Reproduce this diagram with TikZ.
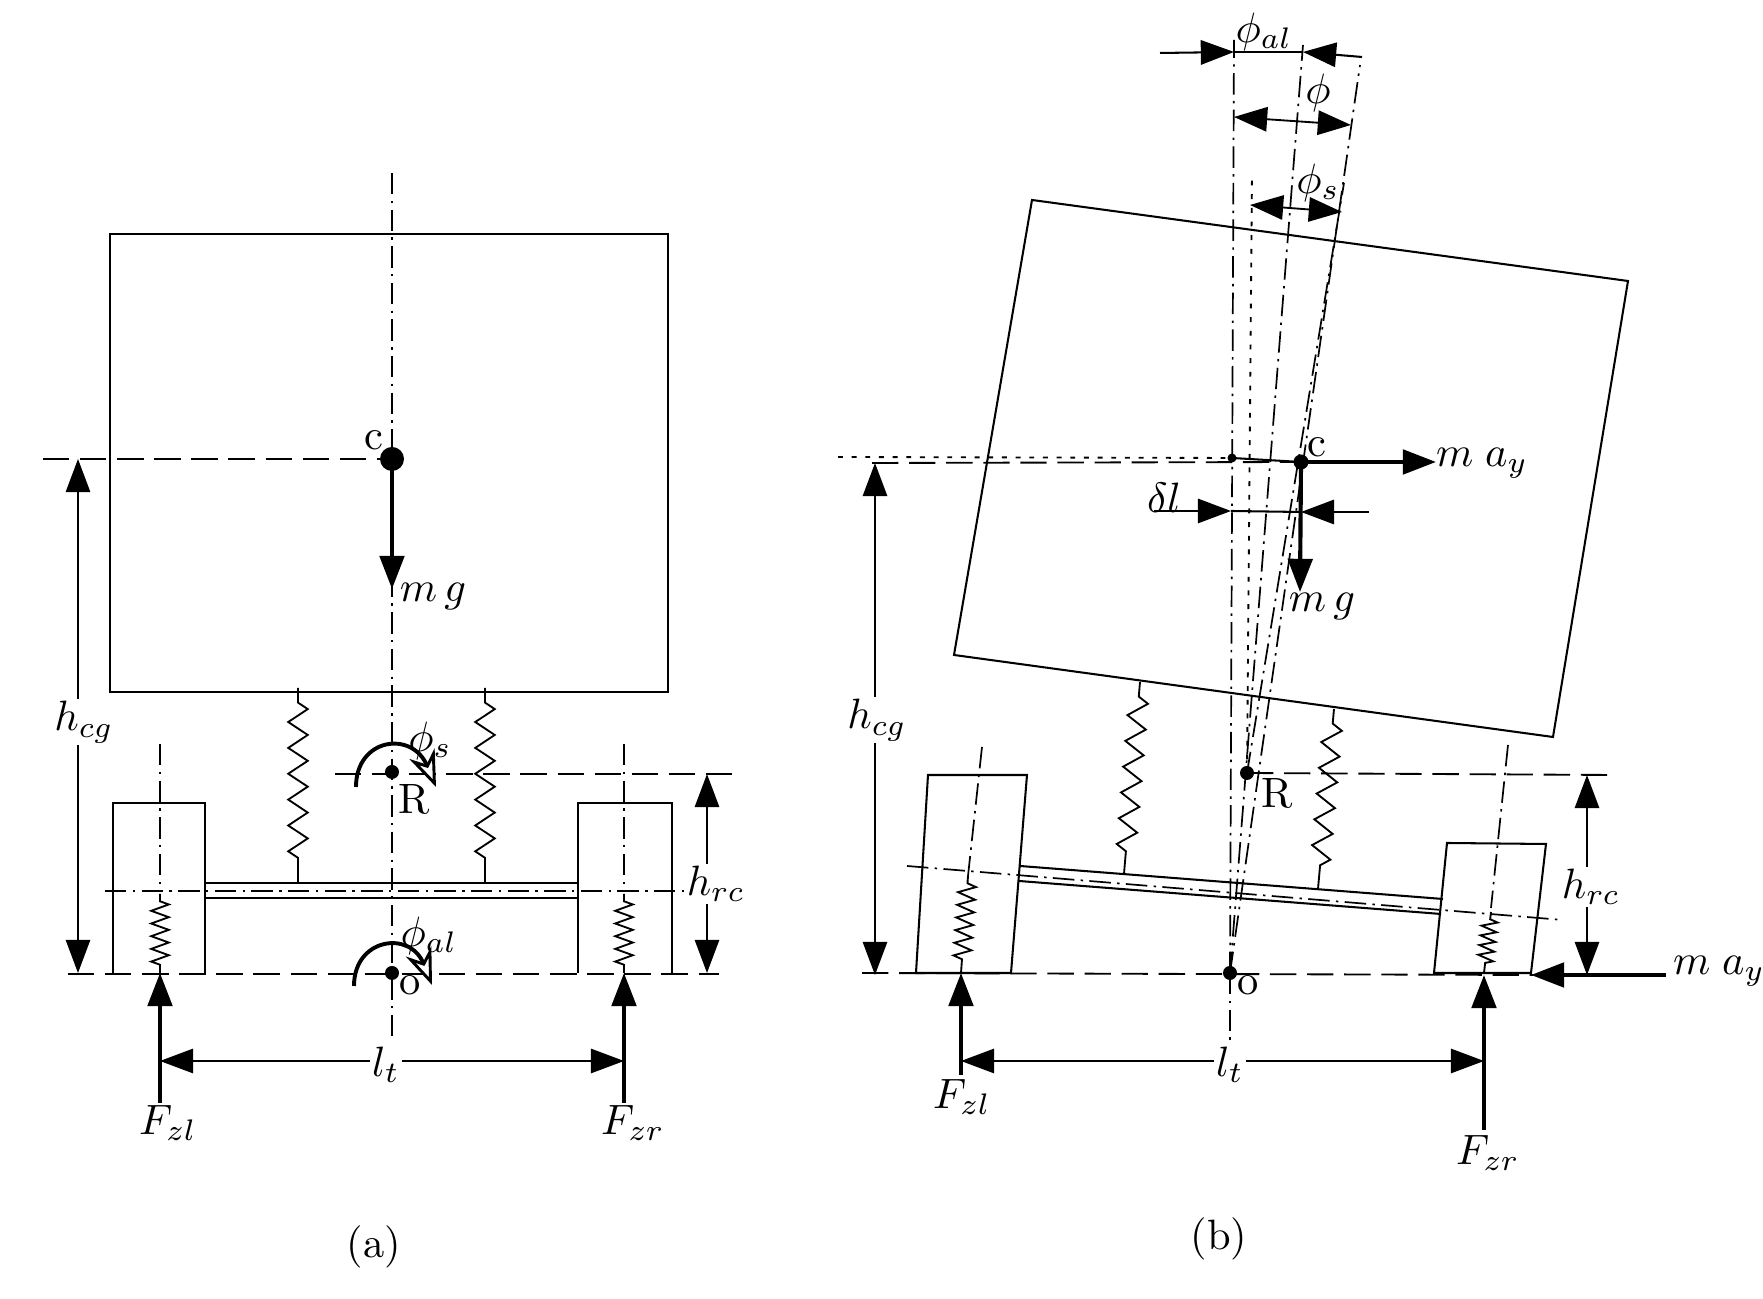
\documentclass[tikz,border=0pt]{standalone}
\usetikzlibrary{arrows.meta,decorations.pathmorphing}

\tikzset{
	every node/.style={scale=0.87},
	tip/.style={-{Triangle[length=6.8pt,width=5pt]}},
	part/.style={line width=0.42pt},
	chain/.style={line width=0.35pt, dash pattern=on 4.4pt off 1.3pt on 0.5pt off 1.3pt},
	dashline/.style={line width=0.38pt, dash pattern=on 5.4pt off 2.2pt},
	dotline/.style={line width=0.38pt, dash pattern=on 1pt off 1.8pt},
	dimline/.style={line width=0.38pt, {Triangle[length=6.8pt,width=5pt]}-{Triangle[length=6.8pt,width=5pt]}},
	force/.style={line width=0.85pt, tip},
	moment/.style={line width=0.8pt, -{Stealth[open,fill=white,line width=0.6pt,length=7.4pt,width=5.6pt]}},
	spring/.style={line width=0.38pt, decorate, decoration={zigzag, amplitude=2pt, segment length=5.3pt, pre=lineto, pre length=3pt, post=lineto, post length=4pt}},
	coil/.style={line width=0.38pt, decorate, decoration={zigzag, amplitude=1.8pt, segment length=2.6pt, pre=lineto, pre length=1.5pt, post=lineto, post length=1.6pt}},
	clear/.style={fill=white, inner sep=0.6pt},
}

\begin{document}
\begin{tikzpicture}[x=0.0072cm, y=-0.0072cm]
	\useasboundingbox (0, 0) rectangle (1763, 1299);

	% (a)
	\coordinate (ac) at (392, 459);
	\coordinate (aR) at (392, 772);
	\coordinate (ao) at (392, 973);

	\draw[part] (110, 234) rectangle (668, 692);
	\draw[part] (113, 973) -- (113, 803) -- (205, 803) -- (205, 973);
	\draw[part] (578, 973) -- (578, 803) -- (672, 803) -- (672, 973);
	\draw[part] (205, 883) -- (578, 883);
	\draw[part] (205, 898) -- (578, 898);

	% assi
	\draw[chain] (392, 173) -- (392, 1041);
	\draw[chain] (160, 744) -- (160, 892);
	\draw[chain] (624, 744) -- (624, 892);
	\draw[chain] (105, 891) -- (686, 891);
	\draw[dashline] (43, 459) -- (ac);
	\draw[dashline] (335, 774) -- (733, 774);
	\draw[dashline] (68, 974) -- (719, 974);

	\draw[spring] (298, 688) -- (298, 883);
	\draw[spring] (485, 688) -- (485, 883);
	\draw[coil] (160, 894) -- (160, 973);
	\draw[coil] (624, 894) -- (624, 973);

	\fill (ac) circle (12);
	\fill (aR) circle (7);
	\fill (ao) circle (7);

	\draw[moment] (356, 787) .. controls (356, 738) and (412, 730) .. (436, 787);
	\draw[moment] (354, 986) .. controls (354, 938) and (410, 930) .. (432, 985);

	\draw[force] (ac) -- (392, 589);
	\draw[force] (160, 1103) -- (160, 973);
	\draw[force] (624, 1103) -- (624, 973);
	\draw[dimline] (78, 459) -- (78, 973);
	\draw[dimline] (707, 774) -- (707, 973);
	\draw[dimline] (160, 1061) -- (624, 1061);

	\node (alc) at (374, 440) {c};
	\node (alR) at (414, 799) {R};
	\node (alo) at (410, 985) {o};
	\node (almg) at (433, 597) {$m\,g$};
	\node (alps) at (430, 741) {$\phi_s$};
	\node (alpa) at (429, 936) {$\phi_{al}$};
	\node[clear] (alhcg) at (84, 722) {$h_{cg}$};
	\node[clear] (alhrc) at (716, 884) {$h_{rc}$};
	\node[clear] (allt) at (386, 1065) {$l_t$};
	\node (alfl) at (168, 1123) {$F_{zl}$};
	\node (alfr) at (633, 1123) {$F_{zr}$};
	\node (alcap) at (374, 1247) {(a)};

	% (b)
	\coordinate (bc) at (1301, 462);
	\coordinate (bd) at (1232, 458);
	\coordinate (bR) at (1247, 773);
	\coordinate (bo) at (1230, 973);

	\draw[part] (1032, 200) -- (1628, 281) -- (1553, 737) -- (954, 655) -- cycle;
	\draw[part] (928, 775) -- (1027, 775) -- (1011, 973) -- (916, 973) -- cycle;
	\draw[part] (1447, 843) -- (1546, 844) -- (1531, 973) -- (1434, 973) -- cycle;
	\draw[part] (1020, 866) -- (1443, 899);
	\draw[part] (1019, 881) -- (1441, 914);

	% assi
	\draw[chain] (bo) -- (1234, 40);
	\draw[chain] (bo) -- (1303, 45);
	\draw[chain] (bo) -- (1360, 65);
	\draw[chain] (bR) -- (1344, 183);
	\draw[dotline] (bR) -- (1252, 173);
	\draw[chain] (bo) -- (1230, 1040);
	\draw[chain] (982, 747) -- (968, 876);
	\draw[chain] (1508, 745) -- (1491, 908);
	\draw[chain] (907, 866) -- (1563, 920);
	\draw[dotline] (838, 457) -- (bd);
	\draw[dashline] (872, 463) -- (bc);
	\draw[part] (bd) -- (bc);
	\draw[dashline] (bR) -- (1612, 775);
	\draw[dashline] (862, 973) -- (1533, 975);

	\draw[spring] (1140, 682) -- (1124, 874);
	\draw[spring] (1334, 709) -- (1318, 889);
	\draw[coil] (968, 876) -- (961, 973);
	\draw[coil, decoration={segment length=2pt, amplitude=1.6pt}] (1491, 912) -- (1484, 973);

	\fill (bc) circle (7.5);
	\fill (bd) circle (4.5);
	\fill (bR) circle (7);
	\fill (bo) circle (7);

	% angoli
	\draw[part, tip] (1160, 53) -- (1234, 52);
	\draw[part] (1234, 52) -- (1303, 52);
	\draw[part, tip] (1362, 57) -- (1303, 52);
	\draw[dimline] (1234, 117) -- (1351, 125);
	\draw[dimline] (1250, 205) -- (1342, 212);
	\draw[part, tip] (1154, 511) -- (1231, 511);
	\draw[part] (1231, 511) -- (1301, 512);
	\draw[part, tip] (1369, 512) -- (1301, 512);

	\draw[force] (bc) -- (1436, 462);
	\draw[force] (bc) -- (1300, 592);
	\draw[force] (1666, 975) -- (1531, 975);
	\draw[force] (961, 1075) -- (961, 973);
	\draw[force] (1484, 1130) -- (1484, 975);
	\draw[dimline] (875, 463) -- (875, 975);
	\draw[dimline] (1587, 775) -- (1587, 975);
	\draw[dimline] (961, 1061) -- (1484, 1061);

	\node (blc) at (1317, 447) {c};
	\node (blR) at (1277, 793) {R};
	\node (blo) at (1248, 985) {o};
	\node (blpa) at (1264, 32) {$\phi_{al}$};
	\node (blp) at (1318, 93) {$\phi$};
	\node (blps) at (1318, 183) {$\phi_s$};
	\node (bldl) at (1164, 498) {$\delta l$};
	\node (blmg) at (1322, 607) {$m\,g$};
	\node (blmay) at (1482, 463) {$m\;a_y$};
	\node (blmal) at (1719, 971) {$m\;a_y$};
	\node[clear] (blhcg) at (877, 720) {$h_{cg}$};
	\node[clear] (blhrc) at (1591, 887) {$h_{rc}$};
	\node[clear] (bllt) at (1230, 1065) {$l_t$};
	\node (blfl) at (962, 1097) {$F_{zl}$};
	\node (blfr) at (1488, 1153) {$F_{zr}$};
	\node (blcap) at (1219, 1239) {(b)};
\end{tikzpicture}
\end{document}
